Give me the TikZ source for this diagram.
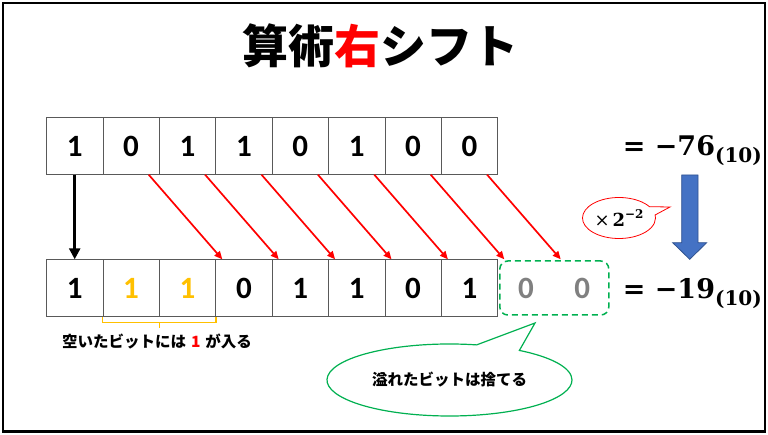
\documentclass[tikz,border=0pt]{standalone}
\usepackage{fontspec}
\setmainfont{Carlito}
\newfontfamily\jpfont{Noto Sans CJK JP}
\newfontfamily\valfont{DejaVu Serif}
\usetikzlibrary{arrows.meta,shapes.callouts}

\definecolor{bitorange}{HTML}{FFC000}
\definecolor{spillgreen}{HTML}{00B050}
\definecolor{shiftblue}{HTML}{4472C4}
\definecolor{shiftblueline}{HTML}{2F528F}

\newcommand{\decval}[1]{{\valfont\bfseries = −#1\raisebox{-7pt}{\fontsize{20}{20}\selectfont(10)}}}

\tikzset{
	bitcell/.style={draw=black!65, line width=0.8pt, minimum width=56.4pt, minimum height=56.6pt, inner sep=0pt, font=\fontsize{31}{31}\selectfont\bfseries},
	spillcell/.style={bitcell, draw=none, text=black!50},
	shiftarrow/.style={-{Triangle[length=8pt,width=7pt]}, line width=1.7pt, red},
	jptext/.style={font=\jpfont\bfseries\fontsize{15.5}{16}\selectfont},
	valuetext/.style={anchor=base east, inner sep=0pt, font=\fontsize{27}{27}\selectfont},
}

\begin{document}
\begin{tikzpicture}[x=1pt,y=-1pt]
		\useasboundingbox (0,0) rectangle (768,435);
		\draw[line width=2.5pt] (3,3) rectangle (765,431.5);
		
		\node[font=\jpfont\bfseries\fontsize{46}{46}\selectfont] (title) at (380,46) {算術\textcolor{red}{右}シフト};
		
		\foreach \b [count=\i from 0] in {1,0,1,1,0,1,0,0}
			\node[bitcell] (t\i) at (74.7+56.4*\i,146) {\b};
		\foreach \b/\c [count=\i from 0] in {1/black,1/bitorange,1/bitorange,0/black,1/black,1/black,0/black,1/black}
			\node[bitcell,text=\c] (b\i) at (74.7+56.4*\i,288) {\b};
		\node[spillcell] (b8) at (74.7+56.4*8,288) {0};
		\node[spillcell] (b9) at (74.7+56.4*9,288) {0};
		
		\draw[-{Triangle[length=11pt,width=11pt]},line width=2.6pt] (t0.south) -- (b0.north);
		\foreach \i [evaluate=\i as \j using int(\i+2)] in {1,...,7}
			\draw[shiftarrow] ([xshift=-11pt]t\i.south east) -- ([xshift=7pt]b\j.north west);
		
		%\draw[help lines] (0,0) grid[step=50pt] (768,435);
		\draw[bitorange,line width=1.5pt] (b1.south west) -- ++(0,6) -| (b2.south east);
		\draw[bitorange,line width=1.5pt] ([yshift=-6pt]b1.south east) -- ++(0,5);
		\node[jptext] (filltext) at (157,342) {空いたビットには\hspace{5pt}\textcolor{red}{1}\hspace{5pt}が入る};
		
		\node[draw=spillgreen,dashed,dash pattern=on 6pt off 4pt,line width=1.5pt,rounded corners=8pt,minimum width=109pt,minimum height=54pt] (spill) at (554.3,288) {};
		\coordinate (spilltip) at (535,323);
		\node[jptext,ellipse callout,draw=spillgreen,line width=1.2pt,minimum width=245pt,minimum height=72pt,inner sep=0pt,callout absolute pointer={(spilltip)},callout pointer arc=22] (spillnote) at (449.5,380) {溢れたビットは捨てる};
		
		\node[valuetext] (v76) at (762,156) {\decval{76}};
		\node[valuetext] (v19) at (762,299) {\decval{19}};
		\filldraw[fill=shiftblue,draw=shiftblueline,line width=0.8pt] (681.7,175) -- (698,175) -- (698,242.7) -- (706.7,242.7) -- (689.7,259.3) -- (672.7,242.7) -- (681.7,242.7) -- cycle;
		
		\coordinate (scaletip) at (670,207);
		\node[ellipse callout,draw=red,line width=0.8pt,fill=white,minimum width=73pt,minimum height=41pt,inner sep=0pt,callout absolute pointer={(scaletip)},callout pointer arc=25,font=\valfont\fontsize{18}{18}\selectfont] (scale) at (619,218) {×\hspace{3pt}\textbf{2\raisebox{8pt}{\fontsize{12}{12}\selectfont −2}}};
\end{tikzpicture}
\end{document}
